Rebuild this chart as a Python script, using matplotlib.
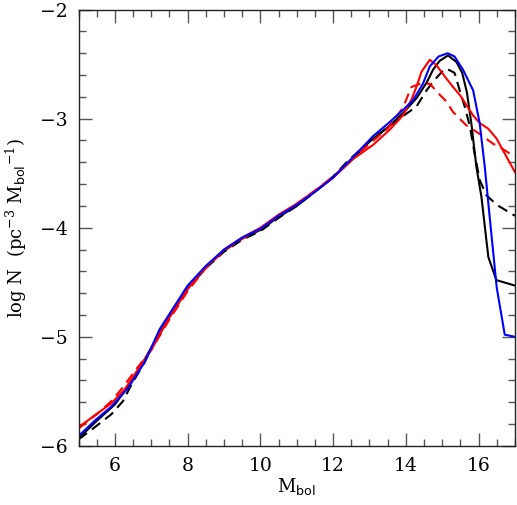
import numpy as np
import matplotlib
matplotlib.use("Agg")
import matplotlib.pyplot as plt
from matplotlib.ticker import MultipleLocator

plt.rcParams['font.family'] = ['DejaVu Serif']
plt.rcParams['mathtext.fontset'] = 'dejavuserif'
plt.rcParams['axes.unicode_minus'] = True

# --- data (M_bol, log N) ---
black_x = [5.0, 5.5, 6.0, 6.5, 7.0, 7.5, 8.0, 8.5, 9.0, 9.5, 10.0, 10.5, 11.0, 11.5,
           12.0, 12.5, 13.0, 13.5, 13.92, 14.3, 14.57, 14.75, 14.93, 15.16, 15.39,
           15.55, 15.68, 15.80, 15.94, 16.08, 16.21, 16.27, 16.49, 17.0]
black_y = [-5.93, -5.77, -5.62, -5.39, -5.10, -4.81, -4.55, -4.36, -4.21, -4.10, -4.02,
           -3.90, -3.80, -3.67, -3.54, -3.38, -3.21, -3.08, -2.95, -2.81, -2.67, -2.55,
           -2.47, -2.42, -2.48, -2.58, -2.76, -3.04, -3.44, -3.72, -4.10, -4.27, -4.48,
           -4.53]

black_dash_x = [5.0, 5.44, 5.9, 6.22, 6.45, 6.82, 7.0, 7.5, 8.0, 8.5, 9.0, 9.5, 10.0,
                10.5, 11.0, 11.5, 12.0, 12.4, 12.73, 13.0, 13.65, 14.29, 14.57, 14.75,
                15.02, 15.11, 15.34, 15.48, 15.62, 15.76, 15.89, 16.03, 16.21, 16.5, 17.0]
black_dash_y = [-5.94, -5.83, -5.71, -5.59, -5.44, -5.23, -5.11, -4.82, -4.56, -4.37,
                -4.22, -4.11, -4.03, -3.91, -3.80, -3.67, -3.53, -3.39, -3.29, -3.21,
                -3.04, -2.89, -2.74, -2.66, -2.56, -2.54, -2.58, -2.74, -2.89, -3.07,
                -3.32, -3.56, -3.70, -3.79, -3.89]

red_x = [5.0, 5.44, 5.9, 6.27, 6.59, 7.0, 7.27, 7.5, 8.0, 8.5, 9.0, 9.5, 10.0, 10.5,
         11.0, 11.5, 12.0, 12.55, 13.1, 13.56, 13.92, 14.15, 14.29, 14.43, 14.66,
         14.84, 15.11, 15.30, 15.5, 15.85, 16.03, 16.26, 16.49, 16.72, 17.0]
red_y = [-5.83, -5.72, -5.61, -5.48, -5.32, -5.12, -4.95, -4.82, -4.56, -4.36, -4.20,
         -4.09, -4.00, -3.88, -3.78, -3.66, -3.54, -3.37, -3.24, -3.10, -2.97, -2.83,
         -2.71, -2.57, -2.46, -2.51, -2.63, -2.71, -2.79, -2.97, -3.04, -3.09, -3.18,
         -3.32, -3.49]

red_dash_x = [5.0, 5.5, 5.9, 6.2, 6.6, 7.0, 7.5, 8.0, 8.5, 9.0, 9.5, 10.0, 10.5, 11.0,
              11.5, 12.0, 12.5, 13.0, 13.5, 13.92, 14.15, 14.4, 14.66, 14.93, 15.11,
              15.3, 15.48, 15.66, 16.03, 16.4, 16.58, 17.0]
red_dash_y = [-5.84, -5.71, -5.59, -5.47, -5.29, -5.12, -4.84, -4.58, -4.37, -4.21,
              -4.10, -4.01, -3.89, -3.78, -3.66, -3.53, -3.38, -3.23, -3.09, -2.90,
              -2.71, -2.68, -2.68, -2.78, -2.84, -2.94, -3.00, -3.06, -3.14, -3.23,
              -3.26, -3.35]

blue_x = [5.0, 5.44, 5.9, 6.36, 6.82, 7.23, 7.5, 8.0, 8.5, 9.0, 9.5, 10.0, 10.5, 11.0,
          11.5, 12.0, 12.64, 13.1, 13.56, 13.92, 14.2, 14.47, 14.66, 14.9, 15.15,
          15.34, 15.57, 15.85, 16.03, 16.17, 16.35, 16.5, 16.72, 17.0]
blue_y = [-5.91, -5.77, -5.64, -5.47, -5.23, -4.93, -4.79, -4.53, -4.35, -4.20, -4.09,
          -4.01, -3.89, -3.79, -3.67, -3.54, -3.32, -3.16, -3.03, -2.92, -2.83, -2.68,
          -2.52, -2.43, -2.40, -2.43, -2.55, -2.74, -3.04, -3.44, -4.05, -4.55, -4.98,
          -5.00]

fig = plt.figure(figsize=(5.17, 5.05), dpi=100)
ax = fig.add_axes([0.152, 0.117, 0.844, 0.864])

lw = 1.5
ax.plot(black_x, black_y, color='black', lw=lw)
ax.plot(black_dash_x, black_dash_y, color='black', lw=lw, dashes=(5, 3))
ax.plot(red_dash_x, red_dash_y, color='#ff0000', lw=lw, dashes=(5, 3))
ax.plot(red_x, red_y, color='#ff0000', lw=lw)
ax.plot(blue_x, blue_y, color='#0000ff', lw=lw)

ax.set_xlim(5, 17)
ax.set_ylim(-6, -2)
ax.xaxis.set_major_locator(MultipleLocator(2))
ax.xaxis.set_minor_locator(MultipleLocator(0.5))
ax.yaxis.set_major_locator(MultipleLocator(1))
ax.yaxis.set_minor_locator(MultipleLocator(0.2))
ax.tick_params(which='both', direction='in', top=True, right=True, color='#555555',
               labelsize=13.5)
ax.tick_params(which='major', length=9.5, width=1.0, pad=8)
ax.tick_params(which='minor', length=5, width=1.0)
for s in ax.spines.values():
    s.set_color('#222222')
    s.set_linewidth(1.0)

ax.set_xlabel(r'M$_{\mathsf{bol}}$', fontsize=13, labelpad=1)
ax.set_ylabel(r'log N  (pc$^{-3}$ M$_{\mathsf{bol}}$$^{-1}$)', fontsize=13, labelpad=8)

fig.savefig('out.png', dpi=100)
